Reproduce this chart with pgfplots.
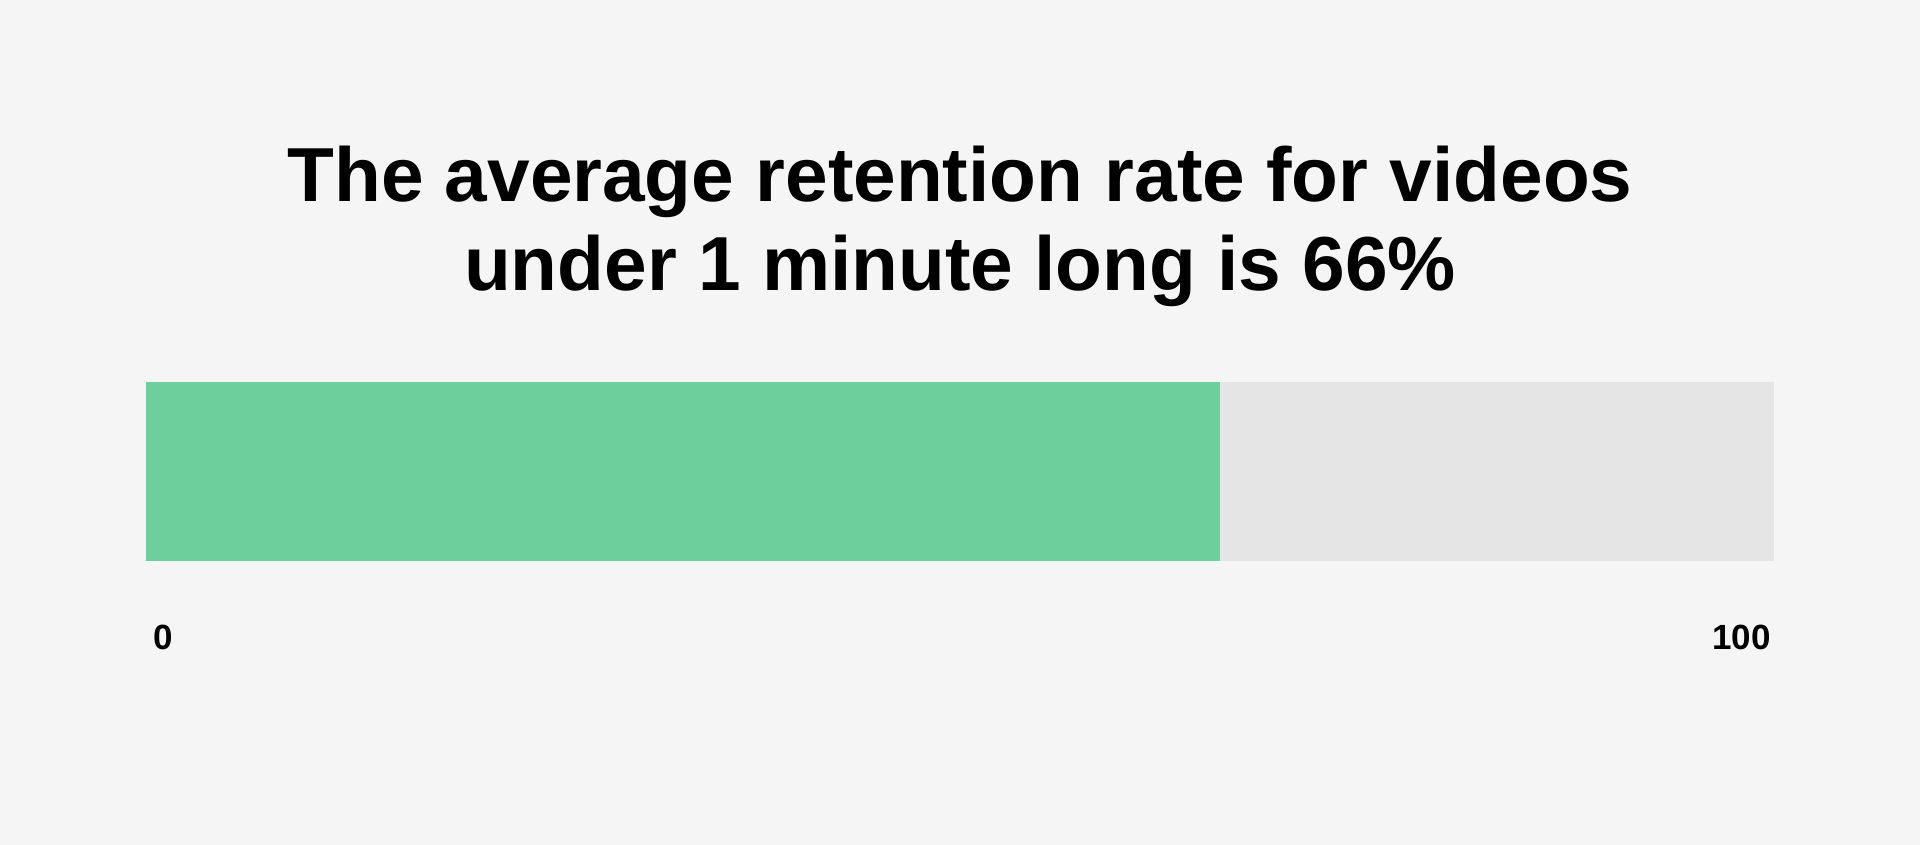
\documentclass[border=0pt]{standalone}
\usepackage{pgfplots}
\pgfplotsset{compat=1.18}
\usepackage{fontspec}
\setmainfont{Liberation Sans}
\definecolor{bg}{HTML}{F5F5F5}
\definecolor{barg}{HTML}{6DCF9C}
\definecolor{rest}{HTML}{E5E5E5}
\begin{document}
\begin{tikzpicture}
\useasboundingbox[fill=bg] (0,0) rectangle (960pt,422.5pt);
\node[anchor=base, font=\fontsize{38.3}{46}\selectfont\bfseries, inner sep=0pt] at (480pt,321.5pt) {The average retention rate for videos};
\node[anchor=base, font=\fontsize{38.3}{46}\selectfont\bfseries, inner sep=0pt] at (480pt,277pt) {under 1 minute long is 66\%};
\begin{axis}[
  at={(73pt,142pt)}, anchor=south west,
  scale only axis, width=814pt, height=89.5pt,
  xbar stacked, bar width=89.5pt,
  xmin=0, xmax=100, ymin=-0.5, ymax=0.5,
  axis line style={draw=none},
  major tick length=0pt,
  ytick=\empty,
  xtick={1.04,98.0}, xticklabels={0,100},
  xticklabel style={anchor=base, yshift=-44.5pt, font=\fontsize{17.5}{20}\selectfont\bfseries, inner sep=0pt},
  /pgf/number format/assume math mode=true,
  clip=false,
]
\addplot[fill=barg, draw=none] coordinates {(66,0)};
\addplot[fill=rest, draw=none] coordinates {(34,0)};
\end{axis}
\end{tikzpicture}
\end{document}
